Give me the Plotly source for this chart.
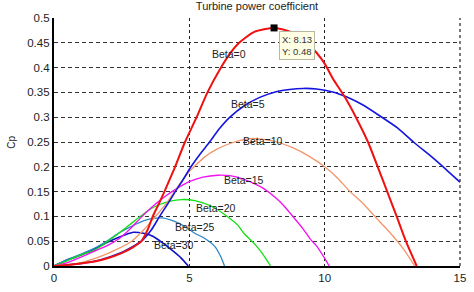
import plotly.graph_objects as go

# ---- data ----
b0_x = [0, 0.5, 1, 1.5, 2, 2.5, 2.9, 3.23, 3.45, 3.65, 3.87, 4.08, 4.45, 4.84, 5.27, 5.67, 6.17, 6.5, 6.84, 7.4, 8.13, 8.7, 9.2, 9.7, 10.0, 10.3, 10.75, 11.2, 11.6, 12.1, 12.66, 13.0, 13.4]
b0_y = [0, 0.002, 0.005, 0.009, 0.016, 0.026, 0.037, 0.05, 0.072, 0.1, 0.125, 0.15, 0.197, 0.25, 0.3, 0.35, 0.4, 0.428, 0.45, 0.472, 0.48, 0.473, 0.457, 0.43, 0.408, 0.378, 0.34, 0.295, 0.25, 0.18, 0.10, 0.05, 0.0]

b5_x = [0, 0.5, 1, 1.7, 2.4, 3.0, 3.23, 3.6, 3.9, 4.2, 4.48, 4.78, 5.06, 5.4, 5.75, 6.1, 6.5, 7.03, 7.6, 8.24, 8.7, 9.2, 9.7, 10.3, 10.8, 11.4, 12.0, 12.7, 13.3, 14.0, 14.5, 15.0]
b5_y = [0, 0.002, 0.005, 0.012, 0.025, 0.042, 0.05, 0.073, 0.1, 0.125, 0.15, 0.175, 0.2, 0.226, 0.25, 0.276, 0.3, 0.323, 0.34, 0.352, 0.356, 0.358, 0.357, 0.351, 0.341, 0.325, 0.304, 0.278, 0.249, 0.218, 0.194, 0.169]

b10_x = [0, 0.5, 1, 1.7, 2.3, 2.87, 3.3, 3.75, 4.2, 4.6, 4.96, 5.27, 5.57, 6.0, 6.4, 6.78, 7.1, 7.4, 7.8, 8.3, 8.84, 9.4, 10.0, 10.5, 10.9, 11.4, 11.87, 12.4, 12.9, 13.33]
b10_y = [0, 0.003, 0.007, 0.019, 0.033, 0.05, 0.072, 0.1, 0.13, 0.162, 0.188, 0.205, 0.22, 0.235, 0.245, 0.252, 0.256, 0.257, 0.255, 0.249, 0.238, 0.222, 0.2, 0.176, 0.152, 0.127, 0.099, 0.068, 0.035, 0.0]

b15_x = [0, 0.5, 1.08, 1.5, 2.0, 2.4, 2.8, 3.2, 3.6, 4.1, 4.5, 5.0, 5.5, 6.05, 6.5, 7.0, 7.4, 7.75, 8.2, 8.5, 8.84, 9.2, 9.5, 9.69, 9.95, 10.17]
b15_y = [0, 0.007, 0.02, 0.03, 0.042, 0.055, 0.074, 0.097, 0.118, 0.14, 0.155, 0.17, 0.179, 0.183, 0.182, 0.175, 0.166, 0.156, 0.137, 0.121, 0.099, 0.075, 0.052, 0.041, 0.02, 0.0]

b20_x = [0, 0.5, 1.08, 1.47, 2.0, 2.44, 3.0, 3.51, 3.9, 4.3, 4.72, 5.2, 5.81, 6.3, 6.78, 7.03, 7.4, 7.7, 8.0]
b20_y = [0, 0.011, 0.024, 0.031, 0.05, 0.068, 0.092, 0.113, 0.124, 0.131, 0.134, 0.132, 0.121, 0.104, 0.083, 0.065, 0.045, 0.025, 0.0]

b25_x = [0, 0.48, 1.0, 1.47, 2.0, 2.44, 2.9, 3.3, 3.65, 4.0, 4.3, 4.63, 4.84, 5.2, 5.5, 5.93, 6.15, 6.3]
b25_y = [0, 0.013, 0.024, 0.035, 0.052, 0.068, 0.081, 0.091, 0.096, 0.097, 0.093, 0.086, 0.079, 0.066, 0.058, 0.04, 0.02, 0.0]

b30_x = [0, 0.48, 0.75, 1.0, 1.47, 1.9, 2.4, 2.93, 3.3, 3.65, 4.0, 4.38, 4.7, 4.96]
b30_y = [0, 0.012, 0.017, 0.022, 0.034, 0.046, 0.058, 0.068, 0.066, 0.06, 0.047, 0.031, 0.016, 0.0]

labels = ["Beta=0", "Beta=5", "Beta=10", "Beta=15", "Beta=20", "Beta=25", "Beta=30"]
label_x = [6.48, 7.15, 7.72, 7.03, 5.99, 5.21, 4.42]
label_y = [0.428, 0.326, 0.2525, 0.174, 0.116, 0.078, 0.042]

tip_x = [8.13]
tip_y = [0.48]

x_ticks = [0, 5, 10, 15]
y_ticks = [0, 0.05, 0.1, 0.15, 0.2, 0.25, 0.3, 0.35, 0.4, 0.45, 0.5]
y_ticktext = ["0", "0.05", "0.1", "0.15", "0.2", "0.25", "0.3", "0.35", "0.4", "0.45", "0.5"]

series = [
    (b30_x, b30_y, "#1010C8", 1.6),
    (b25_x, b25_y, "#2B86C4", 1.3),
    (b20_x, b20_y, "#10E010", 1.3),
    (b15_x, b15_y, "#F010F0", 1.3),
    (b10_x, b10_y, "#F4956A", 1.3),
    (b5_x, b5_y, "#1515E0", 1.6),
    (b0_x, b0_y, "#F01010", 2.0),
]

fig = go.Figure()
for xs, ys, col, w in series:
    fig.add_trace(go.Scatter(x=xs, y=ys, mode="lines",
                             line=dict(color=col, width=w, shape="spline", smoothing=0.6),
                             showlegend=False, hoverinfo="skip"))

fig.add_trace(go.Scatter(x=tip_x, y=tip_y, mode="markers",
                         marker=dict(symbol="square", size=7, color="black"),
                         showlegend=False, hoverinfo="skip"))

font_family = "Liberation Sans, Arial, sans-serif"

for t, lx, ly in zip(labels, label_x, label_y):
    fig.add_annotation(x=lx, y=ly, text=t, showarrow=False,
                       font=dict(family=font_family, size=10.5, color="#222222"))

fig.add_annotation(x=tip_x[0], y=tip_y[0],
                   text="X: %.2f<br>Y: %.2f" % (tip_x[0], tip_y[0]),
                   showarrow=False, xanchor="left", yanchor="top",
                   xshift=5, yshift=-3, align="left",
                   bgcolor="#FFFFE6", bordercolor="#B8B8A0", borderwidth=1, borderpad=2,
                   font=dict(family=font_family, size=9.5, color="#333333"))

fig.add_annotation(xref="paper", yref="paper", x=-0.125, y=0.5, text="Cp",
                   textangle=-90, showarrow=False,
                   font=dict(family=font_family, size=10, color="#222222"))

# right frame edge (dotted, like the grid)
fig.add_shape(type="line", xref="paper", yref="paper", x0=1, x1=1, y0=0, y1=1,
              line=dict(color="#222222", width=1.2, dash="dot"), layer="above")

fig.update_layout(
    width=474, height=292,
    margin=dict(l=54, r=8, t=18, b=14),
    paper_bgcolor="white", plot_bgcolor="white",
    title=dict(text="Turbine power coefficient", x=0.5, xref="paper",
               y=1 - 6.5 / 292, yref="container", yanchor="middle",
               font=dict(family=font_family, size=11, color="#222222")),
    xaxis=dict(range=[0, 15], tickvals=x_ticks, showgrid=True,
               gridcolor="#222222", griddash="dot", gridwidth=1.2,
               zeroline=False, showline=True, linecolor="black", linewidth=1.5,
               ticks="", tickfont=dict(family=font_family, size=11.5, color="#222222"),
               fixedrange=True),
    yaxis=dict(range=[0, 0.5], tickvals=y_ticks, ticktext=y_ticktext, showgrid=True,
               gridcolor="#333333", griddash="4px,3px", gridwidth=1,
               zeroline=False, showline=True, linecolor="black", linewidth=2.2,
               ticks="", tickfont=dict(family=font_family, size=11.5, color="#222222"),
               fixedrange=True),
)

fig.write_html("out.html")
